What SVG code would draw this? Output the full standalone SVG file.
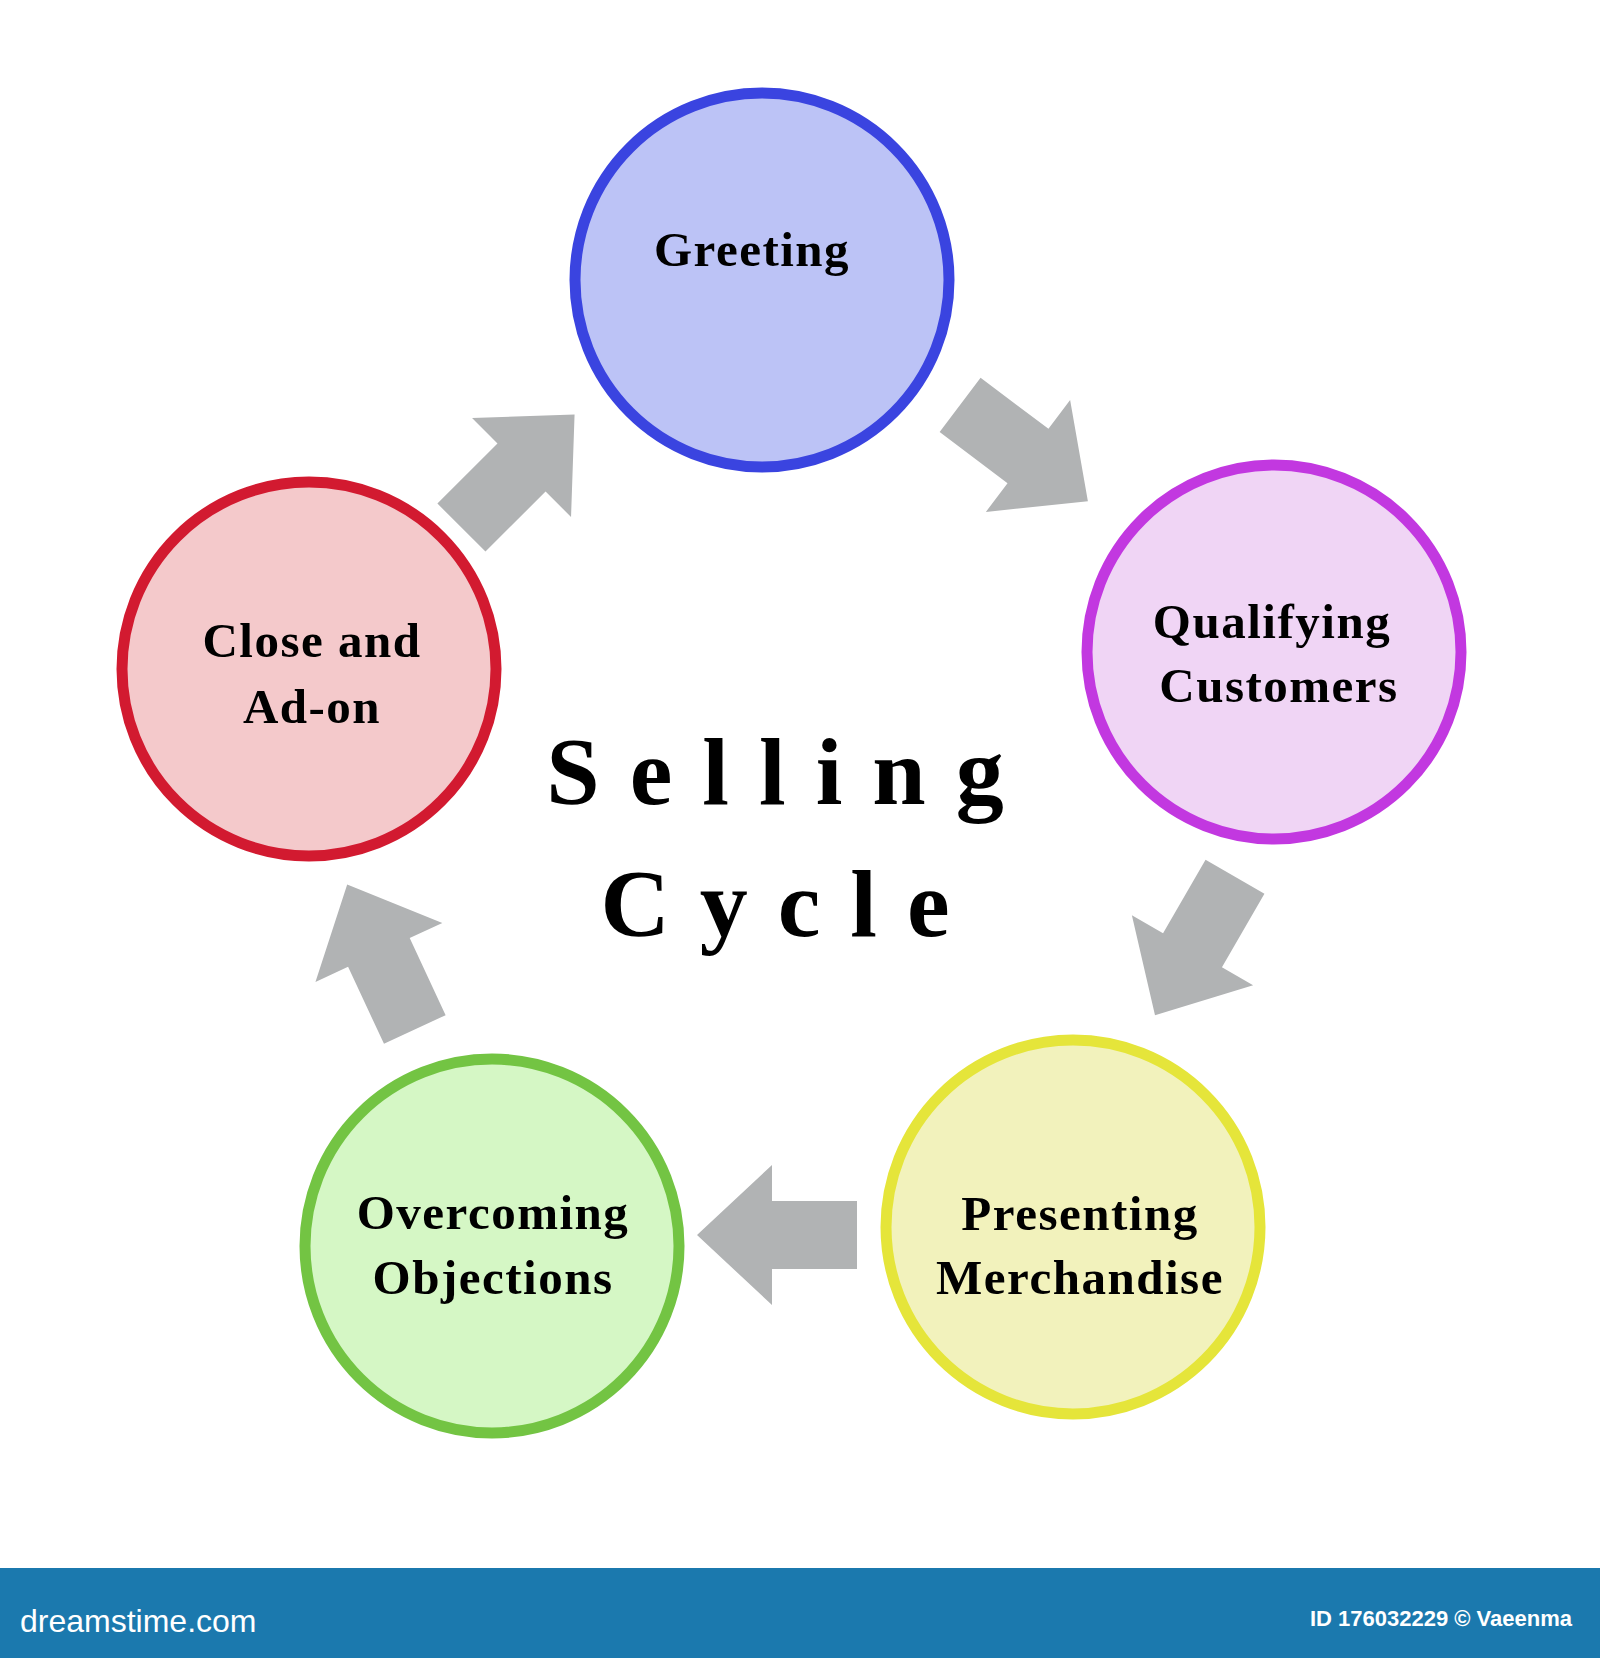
<svg xmlns="http://www.w3.org/2000/svg" width="1600" height="1658" viewBox="0 0 1600 1658">
<defs>
<style>
.lbl{font-family:"Liberation Serif",serif;font-weight:bold;font-size:49px;fill:#000;text-anchor:middle;letter-spacing:1.5px}
.ttl{font-family:"Liberation Serif",serif;font-weight:bold;font-size:96px;fill:#000;text-anchor:middle;letter-spacing:30px}
.arr{fill:#b1b3b4}
.nd{stroke-width:11}
</style>
<path id="ar" d="M-80,-34 L5,-34 L5,-70 L80,0 L5,70 L5,34 L-80,34 Z"/>
</defs>
<rect width="1600" height="1658" fill="#fff"/>
<g id="connectors" class="arr">
<use href="#ar" transform="translate(1024,453) rotate(37)"/>
<use href="#ar" transform="translate(1195,946) rotate(120)"/>
<use href="#ar" transform="translate(777,1235) rotate(180)"/>
<use href="#ar" transform="translate(381,957) rotate(-115)"/>
<use href="#ar" transform="translate(518,471) rotate(-45)"/>
</g>
<g id="greeting"><circle class="nd" cx="762" cy="280" r="187" fill="#bcc3f6" stroke="#3a44e0"/><text class="lbl" x="752" y="266">Greeting</text></g>
<g id="qualifying"><circle class="nd" cx="1274" cy="652" r="187" fill="#f0d5f5" stroke="#c238e0"/><text class="lbl" x="1272" y="638">Qualifying</text><text class="lbl" x="1279" y="702">Customers</text></g>
<g id="presenting"><circle class="nd" cx="1073" cy="1227" r="187" fill="#f2f2bc" stroke="#e5e53a"/><text class="lbl" x="1080" y="1230">Presenting</text><text class="lbl" x="1080" y="1294">Merchandise</text></g>
<g id="overcoming"><circle class="nd" cx="492" cy="1246" r="187" fill="#d5f7c5" stroke="#73c443"/><text class="lbl" x="493" y="1229">Overcoming</text><text class="lbl" x="493" y="1294">Objections</text></g>
<g id="close"><circle class="nd" cx="309" cy="669" r="187" fill="#f4c9cb" stroke="#d21a30"/><text class="lbl" x="312" y="657">Close and</text><text class="lbl" x="312" y="723">Ad-on</text></g>
<g id="title"><text class="ttl" x="790" y="804">Selling</text><text class="ttl" x="790" y="936">Cycle</text></g>
<g id="footer"><rect x="0" y="1568" width="1600" height="90" fill="#1b79ae"/>
<text x="20" y="1632" font-family="Liberation Sans,sans-serif" font-size="32" fill="#fff">dreamstime.com</text>
<text x="1572" y="1626" font-family="Liberation Sans,sans-serif" font-size="22" font-weight="bold" fill="#fff" text-anchor="end">ID 176032229 © Vaeenma</text></g>
</svg>
